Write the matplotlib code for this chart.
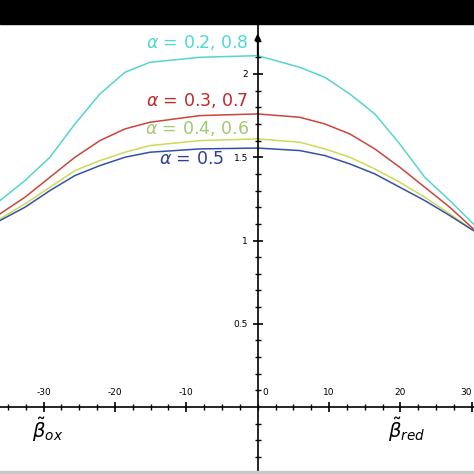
import matplotlib
matplotlib.use("Agg")
import matplotlib.pyplot as plt
from matplotlib.patches import Rectangle

x = [-36.1, -32.6, -29.1, -25.6, -22.1, -18.6, -15.1, -8.1, 0.0, 5.9, 9.4, 12.9, 16.4, 19.9, 23.4, 26.9, 30.2]
cyan = [1.24, 1.36, 1.50, 1.70, 1.88, 2.01, 2.07, 2.10, 2.11, 2.04, 1.98, 1.88, 1.76, 1.58, 1.38, 1.24, 1.10]
red = [1.16, 1.26, 1.38, 1.50, 1.60, 1.67, 1.71, 1.75, 1.76, 1.74, 1.70, 1.64, 1.55, 1.44, 1.32, 1.20, 1.07]
green = [1.13, 1.22, 1.32, 1.42, 1.48, 1.53, 1.57, 1.60, 1.61, 1.59, 1.55, 1.50, 1.43, 1.35, 1.26, 1.16, 1.06]
blue = [1.12, 1.20, 1.30, 1.39, 1.45, 1.50, 1.53, 1.55, 1.555, 1.54, 1.51, 1.46, 1.40, 1.32, 1.24, 1.15, 1.06]
labels = [r"$\alpha$ = 0.2, 0.8", r"$\alpha$ = 0.3, 0.7", r"$\alpha$ = 0.4, 0.6", r"$\alpha$ = 0.5"]
xticks = [-30, -20, -10, 10, 20, 30]
yticks = [0.5, 1, 1.5, 2]

fig = plt.figure(figsize=(4.74, 4.74), dpi=100)
fig.patches.append(Rectangle((0, 450/474), 1, 24/474, transform=fig.transFigure, color="black", zorder=10))
fig.patches.append(Rectangle((0, 0), 1, 3/474, transform=fig.transFigure, color="#c8c8c8", zorder=10))
ax = fig.add_axes([0, 3/474, 1, 447/474])
ax.set_xlim(-36.1, 30.3)
ax.set_ylim(-0.384, 2.30)

series = [(cyan, "#55d6cc", "#4fd8d8"), (red, "#c9463d", "#c0282a"),
          (green, "#c9dc55", "#a5c872"), (blue, "#3550a8", "#2a3f9c")]
label_pos = [(-8.5, 2.19), (-8.5, 1.84), (-8.5, 1.67), (-9.2, 1.49)]
for (vals, lc, tc), lab, (lx, ly) in zip(series, labels, label_pos):
    ax.plot(x, vals, color=lc, lw=1.1)
    ax.text(lx, ly, lab, color=tc, fontsize=12.5, ha="center", va="center",
            fontfamily="DejaVu Sans")

for s in ["top", "right"]:
    ax.spines[s].set_visible(False)
ax.spines["left"].set_position(("data", 0))
ax.spines["bottom"].set_position(("data", 0))
ax.spines["left"].set_linewidth(1.2)
ax.spines["bottom"].set_linewidth(1.2)
ax.set_xticks(xticks)
ax.set_xticklabels([])
ax.set_xticks([i * 2.5 for i in range(-14, 13)], minor=True)
for t in xticks:
    ax.text(min(t, 29.2), 0.09, str(t), fontsize=6.5, ha="center", va="center")
ax.set_yticks(yticks)
ax.set_yticklabels(["0.5", "1", "1.5", "2"])
ax.set_yticks([i / 10 for i in range(-3, 23) if i != 0], minor=True)
ax.tick_params(axis="x", which="both", direction="inout")
ax.tick_params(axis="x", which="major", length=7, width=1.2)
ax.tick_params(axis="x", which="minor", length=4, width=1)
ax.tick_params(axis="y", which="both", direction="inout", labelsize=6.5)
ax.tick_params(axis="y", which="major", length=7, width=1.2)
ax.tick_params(axis="y", which="minor", length=4, width=1)
ax.text(1.0, 0.09, "0", fontsize=6.5, ha="center", va="center")
ax.annotate("", xy=(0, 2.26), xytext=(0, 2.1),
            arrowprops=dict(arrowstyle="-|>", color="black", lw=1.2, mutation_scale=9))
ax.text(-29.5, -0.14, r"$\tilde{\beta}_{ox}$", fontsize=14, ha="center", va="center")
ax.text(20.8, -0.14, r"$\tilde{\beta}_{red}$", fontsize=14, ha="center", va="center")

fig.savefig("out.png", dpi=100)
